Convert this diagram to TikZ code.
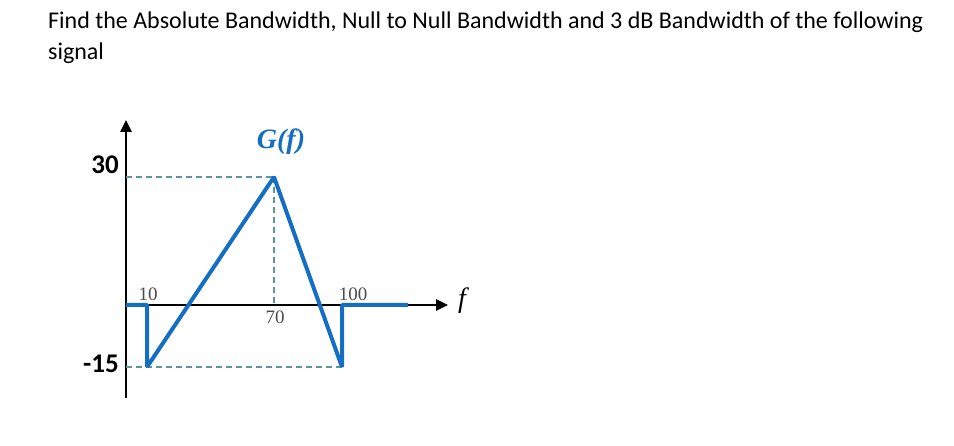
\documentclass[tikz,border=0pt]{standalone}
\usepackage{fontspec}
\setmainfont{Carlito}
\newfontfamily\numfont{Liberation Serif}
\usetikzlibrary{arrows.meta}
\definecolor{sigblue}{RGB}{20,110,195}
\definecolor{guide}{RGB}{90,150,160}
\tikzset{
    axis/.style = {-{Triangle[length=12pt, width=11pt]}, line width=2.5pt, black},
    signal/.style = {line width=4pt, sigblue, line join=bevel},
    guideline/.style = {dash pattern=on 6pt off 4pt, line width=1.5pt, guide},
    level/.style = {font=\fontsize{27}{29}\selectfont\bfseries, anchor=east, inner sep=1pt},
    tick/.style = {font=\numfont\fontsize{19}{21}\selectfont, text=black!70, inner sep=1pt}
}
\begin{document}
\begin{tikzpicture}[x=1pt, y=-1pt]
    \useasboundingbox (0,0) rectangle (954,446);

    % Question text.
    \node (question) [anchor=north west, align=left, inner sep=0pt, font=\fontsize{24}{31}\selectfont]
        at (48,12) {Find the Absolute Bandwidth, Null to Null Bandwidth and 3 dB Bandwidth of the following\\signal};

    % Axes.
    \coordinate (origin) at (126,305);
    \coordinate (ytop) at (126,120);
    \coordinate (ybot) at (126,398);
    \coordinate (xend) at (448,305);
    \draw [axis] (ybot) -- (ytop);
    \draw [axis] (origin) -- (xend);

    % Signal corners.
    \coordinate (p10) at (147,305);
    \coordinate (m10) at (147,367);
    \coordinate (peak) at (274,177);
    \coordinate (m100) at (342,367);
    \coordinate (p100) at (342,305);
    \coordinate (tail) at (408,305);

    % Guides.
    \draw [guideline] (126,177) -- (peak);
    \draw [guideline] (126,367) -- (m100);
    \draw [guideline] (peak) -- (274,305);

    % Signal.
    \draw [signal] (origin) -- (p10) -- (m10) -- (peak) -- (m100) -- (p100) -- (tail);

    % Labels.
    \node (lab30) [level] at (120,165) {30};
    \node (lab15) [level] at (120,364) {-15};
    \node (lab10) [tick, anchor=south] at (148,302) {10};
    \node (lab70) [tick, anchor=north] at (275,310) {70};
    \node (lab100) [tick, anchor=south] at (353,302) {100};
    \node (labf) [font=\numfont\itshape\fontsize{28}{30}\selectfont] at (462,301) {f};
    \node (labG) [font=\numfont\bfseries\itshape\fontsize{28}{30}\selectfont, text=sigblue] at (281,142) {G(f)};
\end{tikzpicture}
\end{document}
